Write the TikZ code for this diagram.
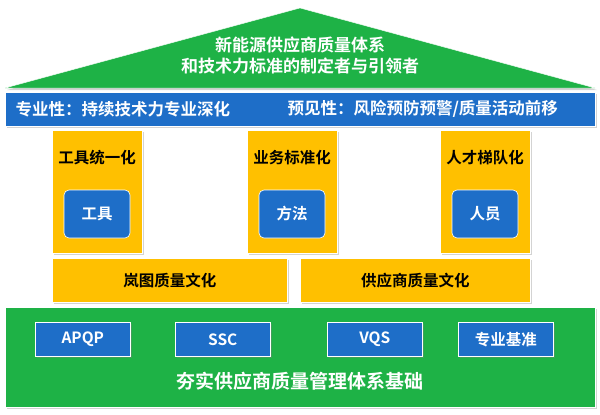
\documentclass[tikz,border=0pt]{standalone}
\usepackage{fontspec}
\newfontfamily\cjk{Noto Sans CJK SC Bold}
\usetikzlibrary{shadows}
\definecolor{gr}{RGB}{30,178,70}
\definecolor{bl}{RGB}{30,110,200}
\definecolor{ye}{RGB}{255,192,0}
\tikzset{
  sh/.style={drop shadow={shadow xshift=2pt,shadow yshift=-2pt,opacity=0.35}},
  pillar/.style={fill=ye,draw=white,line width=0.6pt,sh},
  bbox/.style={fill=bl,rounded corners=5pt,draw=white,line width=0.6pt},
  sbox/.style={fill=bl,draw=white,line width=0.6pt},
  wt/.style={text=white,font=\cjk\fontsize{15.5}{18}\selectfont},
}
\begin{document}
\begin{tikzpicture}[x=1pt,y=-1pt]
\useasboundingbox (0,0) rectangle (600,415);
% roof
\draw[fill=gr,draw=white,sh] (300,8) -- (595,88) -- (5,88) -- cycle;
\node[wt,align=center,font=\cjk\fontsize{17}{21}\selectfont] (roof) at (300,56) {新能源供应商质量体系\\和技术力标准的制定者与引领者};
% blue bar
\node[sbox,sh,minimum width=590pt,minimum height=34pt,anchor=north west,inner sep=0pt] (bar) at (5,92) {};
\node[wt,font=\cjk\fontsize{16.5}{19}\selectfont,anchor=west] (b1) at (12,109) {专业性：持续技术力专业深化};
\node[wt,font=\cjk\fontsize{16.5}{19}\selectfont,anchor=west] (b2) at (284,109) {预见性：风险预防预警/质量活动前移};
% pillars
\foreach \x/\t/\b/\n in {52/工具统一化/工具/p1,247/业务标准化/方法/p2,440/人才梯队化/人员/p3}{
  \node[pillar,minimum width=90pt,minimum height=123pt,anchor=north west,inner sep=0pt] (\n) at (\x,130) {};
  \node[text=black,font=\cjk\fontsize{15.5}{18}\selectfont] (\n t) at (\x+45,158) {\t};
  \node[bbox,minimum width=66pt,minimum height=48pt,inner sep=0pt,wt] (\n b) at (\x+45,214) {\b};
}
% culture bars
\node[pillar,minimum width=235pt,minimum height=44pt,anchor=north west,inner sep=0pt,font=\cjk\fontsize{15.5}{18}\selectfont] (c1) at (52,258) {岚图质量文化};
\node[pillar,minimum width=230pt,minimum height=44pt,anchor=north west,inner sep=0pt,font=\cjk\fontsize{15.5}{18}\selectfont] (c2) at (300,258) {供应商质量文化};
% base
\node[fill=gr,draw=white,sh,minimum width=590pt,minimum height=100pt,anchor=north west,inner sep=0pt] (base) at (5,307) {};
\foreach \x/\t/\n in {35/APQP/q1,175/SSC/q2,327/VQS/q3,458/专业基准/q4}{
  \node[sbox,sh,minimum width=95pt,minimum height=34pt,anchor=north west,inner sep=0pt,wt] (\n) at (\x,322) {\t};
}
\node[wt,font=\cjk\fontsize{19}{22}\selectfont] (bt) at (300,381) {夯实供应商质量管理体系基础};
\end{tikzpicture}
\end{document}
